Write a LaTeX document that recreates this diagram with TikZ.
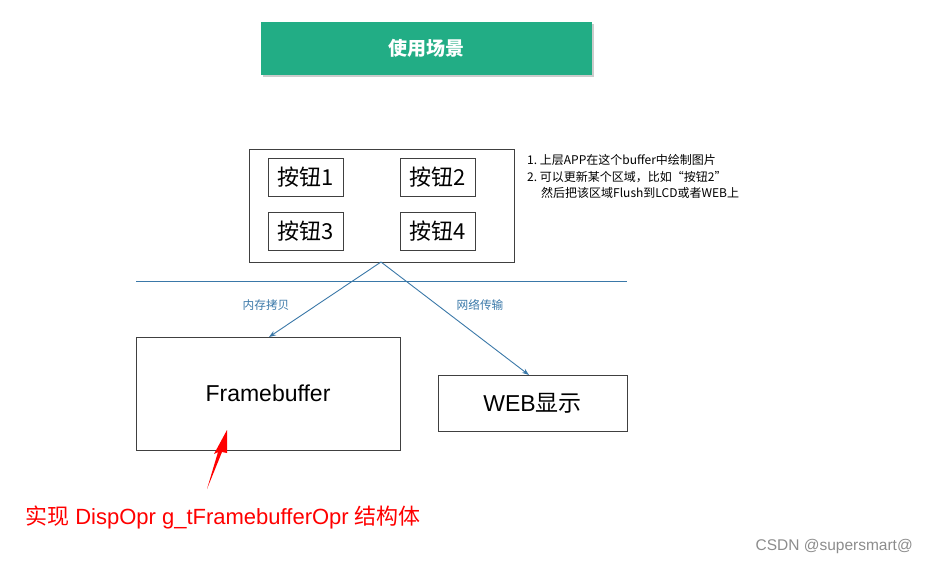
\documentclass[tikz,border=0pt]{standalone}
\usepackage{fontspec}
\setmainfont{Liberation Sans}
\newfontfamily\cjk{Noto Sans CJK SC}
\usetikzlibrary{arrows.meta}
\definecolor{tgreen}{HTML}{22AD85}
\definecolor{lblue}{HTML}{3A78A8}
\tikzset{
  box/.style={draw=black!75,line width=0.8pt,inner sep=0pt},
  btn/.style={box,minimum width=75pt,minimum height=38pt,font=\cjk\fontsize{22}{22}\selectfont},
  conn/.style={lblue,line width=0.9pt,-{Stealth[length=7pt,width=5pt]}},
  lbl/.style={lblue,font=\cjk\fontsize{11.7}{11.7}\selectfont},
  note/.style={font=\cjk\fontsize{12}{12}\selectfont,anchor=west,inner sep=0pt}
}
\begin{document}
\begin{tikzpicture}[x=1pt,y=-1pt]
\useasboundingbox (0,0) rectangle (928,563);
\fill[black!20] (263,24) rectangle (594,77);
\node[fill=tgreen,minimum width=331pt,minimum height=53pt,inner sep=0pt,text=white,font=\cjk\bfseries\fontsize{19}{19}\selectfont] (title) at (426.5,48.5) {使用场景};
\node[box,minimum width=265pt,minimum height=113pt] (app) at (381.5,205.5) {};
\node[btn] (b1) at (305.5,177) {按钮1};
\node[btn] (b2) at (438,177) {按钮2};
\node[btn] (b3) at (305.5,231) {按钮3};
\node[btn] (b4) at (438,231) {按钮4};
\node[note] (n1) at (527,160) {1.\ 上层APP在这个buffer中绘制图片};
\node[note] (n2) at (527,177) {2.\ 可以更新某个区域，比如“按钮2”};
\node[note] (n3) at (541,193) {然后把该区域Flush到LCD或者WEB上};
\coordinate (l1) at (136,281);
\coordinate (l2) at (627,281);
\draw[lblue,line width=0.9pt] (l1) -- (l2);
\node[box,minimum width=264pt,minimum height=113pt,font=\fontsize{23}{23}\selectfont] (fb) at (268,393.5) {Framebuffer};
\node[box,minimum width=189pt,minimum height=56pt,font=\fontsize{23}{23}\selectfont] (web) at (532.5,403) {WEB{\cjk 显示}};
\coordinate (src) at (381,262);
\coordinate (fbin) at (269,337);
\coordinate (webin) at (529,375);
\draw[conn] (src) -- (fbin);
\draw[conn] (src) -- (webin);
\node[lbl] (m) at (266,305) {内存拷贝};
\node[lbl] (w) at (480,305) {网络传输};
\node[red,anchor=west,inner sep=0pt,font=\fontsize{22}{22}\selectfont] (ann) at (25,517) {{\cjk 实现} DispOpr g\_tFramebufferOpr {\cjk 结构体}};
\coordinate (tail) at (207,489);
\coordinate (tip) at (227,430);
\fill[red] (tail) -- (218,452) -- (214,454) -- (tip) -- (227,453) -- (222,452) -- cycle;
\node[black!45,anchor=east,inner sep=0pt,font=\fontsize{15.5}{15.5}\selectfont] (wm) at (913,546) {CSDN @supersmart@};
\end{tikzpicture}
\end{document}
